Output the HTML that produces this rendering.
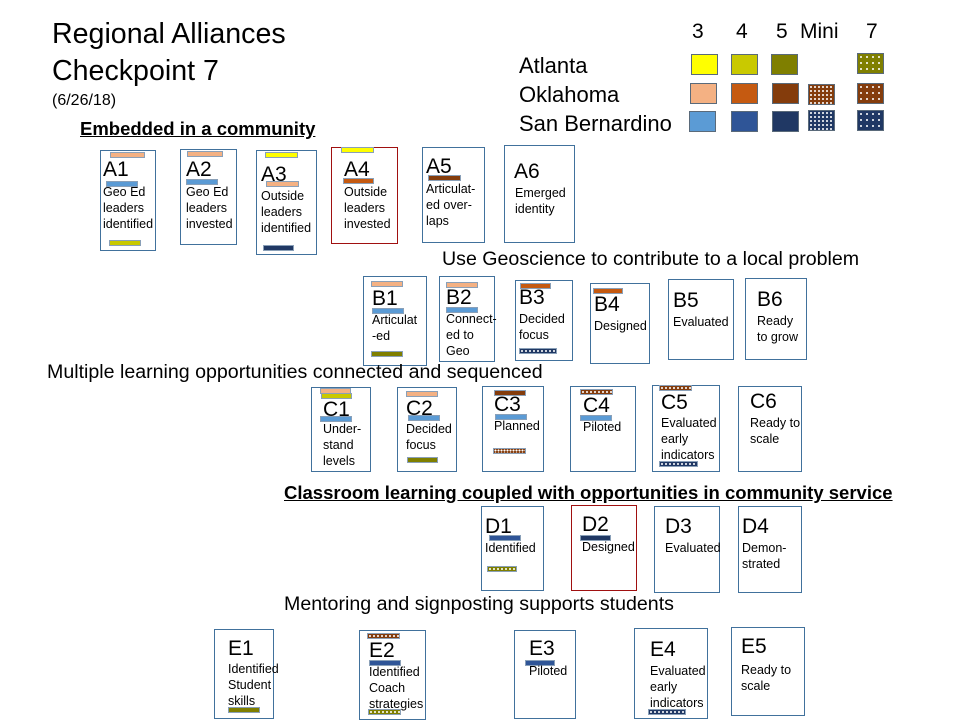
<!DOCTYPE html>
<html><head><meta charset="utf-8"><style>
body{margin:0;width:960px;height:720px;background:#fff;position:relative;overflow:hidden;font-family:"Liberation Sans","DejaVu Sans",sans-serif;color:#000}
div{position:absolute;box-sizing:border-box}
.b{border:1px solid #41719c;background:#fff}
.red{border-color:#a01010}
.id{font-size:21px;line-height:21px}
.t{font-size:12.5px;line-height:16px;white-space:nowrap}
.r{height:6px;width:33px;border:1px solid #8aa0b8}
.s{width:27px;height:21px;border:1px solid #5a6a7a}
.d{background-image:radial-gradient(circle,#fff 0.8px,transparent 1.1px);background-size:4px 4px}
.h{font-size:19.6px;white-space:nowrap}
.hb{font-weight:bold;text-decoration:underline;font-size:18.5px}
.pe{background-color:#f4b183}.ye{background-color:#ffff00}.yo{background-color:#c9c900}.ol{background-color:#7f7f00}
.or{background-color:#c55a11}.br{background-color:#843c0c}.lb{background-color:#5b9bd5}.bl{background-color:#2f5597}.nv{background-color:#203864}
</style></head><body>
<div style="left:52px;top:16px;font-size:28.6px;line-height:37px">Regional Alliances<br>Checkpoint 7</div>
<div style="left:52px;top:92px;font-size:16px">(6/26/18)</div>
<div class="h hb" style="left:80px;top:118px">Embedded in a community</div>

<div style="left:519px;top:51px;font-size:22px;line-height:29px">Atlanta<br>Oklahoma<br>San Bernardino</div>
<div style="left:692px;top:20px;font-size:21px">3</div>
<div style="left:736px;top:20px;font-size:21px">4</div>
<div style="left:776px;top:20px;font-size:21px">5</div>
<div style="left:800px;top:20px;font-size:21px">Mini</div>
<div style="left:866px;top:20px;font-size:21px">7</div>
<div class="s ye" style="left:691px;top:54px"></div><div class="s yo" style="left:731px;top:54px"></div><div class="s ol" style="left:771px;top:54px"></div><div class="s ol d" style="left:857px;top:53px;background-size:6px 6px"></div>
<div class="s pe" style="left:690px;top:83px"></div><div class="s or" style="left:731px;top:83px"></div><div class="s br" style="left:772px;top:83px"></div><div class="s br d" style="left:808px;top:84px"></div><div class="s br d" style="left:857px;top:83px;background-size:6px 6px"></div>
<div class="s lb" style="left:689px;top:111px"></div><div class="s bl" style="left:731px;top:111px"></div><div class="s nv" style="left:772px;top:111px"></div><div class="s nv d" style="left:808px;top:110px"></div><div class="s nv d" style="left:857px;top:110px;background-size:6px 6px"></div>

<!-- A row -->
<div class="b" style="left:100px;top:150px;width:56px;height:101px"></div>
<div class="r pe" style="left:110px;top:152px;width:35px"></div>
<div class="id" style="left:103px;top:159px">A1</div>
<div class="r lb" style="left:106px;top:181px;width:32px"></div>
<div class="t" style="left:103px;top:184px">Geo Ed<br>leaders<br>identified</div>
<div class="r yo" style="left:109px;top:240px;width:32px"></div>

<div class="b" style="left:180px;top:149px;width:57px;height:96px"></div>
<div class="r pe" style="left:187px;top:151px;width:36px"></div>
<div class="id" style="left:186px;top:159px">A2</div>
<div class="r lb" style="left:186px;top:179px;width:32px"></div>
<div class="t" style="left:186px;top:184px">Geo Ed<br>leaders<br>invested</div>

<div class="b" style="left:256px;top:150px;width:61px;height:105px"></div>
<div class="r ye" style="left:265px;top:152px;width:33px"></div>
<div class="id" style="left:261px;top:164px">A3</div>
<div class="r pe" style="left:266px;top:181px;width:33px"></div>
<div class="t" style="left:261px;top:188px">Outside<br>leaders<br>identified</div>
<div class="r nv" style="left:263px;top:245px;width:31px"></div>

<div class="b red" style="left:331px;top:147px;width:67px;height:97px"></div>
<div class="r ye" style="left:341px;top:147px;width:33px"></div>
<div class="id" style="left:344px;top:159px">A4</div>
<div class="r or" style="left:343px;top:178px;width:31px"></div>
<div class="t" style="left:344px;top:184px">Outside<br>leaders<br>invested</div>

<div class="b" style="left:422px;top:147px;width:63px;height:96px"></div>
<div class="id" style="left:426px;top:156px">A5</div>
<div class="r br" style="left:428px;top:175px;width:33px"></div>
<div class="t" style="left:426px;top:181px">Articulat-<br>ed over-<br>laps</div>

<div class="b" style="left:504px;top:145px;width:71px;height:98px"></div>
<div class="id" style="left:514px;top:161px">A6</div>
<div class="t" style="left:515px;top:185px">Emerged<br>identity</div>

<div class="h" style="left:442px;top:248px">Use Geoscience  to contribute to a local problem</div>

<!-- B row -->
<div class="b" style="left:363px;top:276px;width:64px;height:90px"></div>
<div class="r pe" style="left:371px;top:281px;width:32px"></div>
<div class="id" style="left:372px;top:288px">B1</div>
<div class="r lb" style="left:372px;top:308px;width:32px"></div>
<div class="t" style="left:372px;top:312px">Articulat<br>-ed</div>
<div class="r ol" style="left:371px;top:351px;width:32px"></div>

<div class="b" style="left:439px;top:276px;width:56px;height:86px"></div>
<div class="r pe" style="left:446px;top:282px;width:32px"></div>
<div class="id" style="left:446px;top:287px">B2</div>
<div class="r lb" style="left:446px;top:307px;width:32px"></div>
<div class="t" style="left:446px;top:311px">Connect-<br>ed to<br>Geo</div>

<div class="b" style="left:515px;top:280px;width:58px;height:81px"></div>
<div class="r or" style="left:520px;top:283px;width:31px"></div>
<div class="id" style="left:519px;top:287px">B3</div>
<div class="t" style="left:519px;top:311px">Decided<br>focus</div>
<div class="r nv d" style="left:519px;top:348px;width:38px"></div>

<div class="b" style="left:590px;top:283px;width:60px;height:81px"></div>
<div class="r or" style="left:593px;top:288px;width:30px"></div>
<div class="id" style="left:594px;top:294px">B4</div>
<div class="t" style="left:594px;top:318px">Designed</div>

<div class="b" style="left:668px;top:279px;width:66px;height:81px"></div>
<div class="id" style="left:673px;top:290px">B5</div>
<div class="t" style="left:673px;top:314px">Evaluated</div>

<div class="b" style="left:745px;top:278px;width:62px;height:82px"></div>
<div class="id" style="left:757px;top:289px">B6</div>
<div class="t" style="left:757px;top:313px">Ready<br>to grow</div>

<div class="h" style="left:47px;top:361px">Multiple learning opportunities connected and sequenced</div>

<!-- C row -->
<div class="b" style="left:311px;top:387px;width:60px;height:85px"></div>
<div class="r pe" style="left:320px;top:388px;width:31px"></div>
<div class="r yo" style="left:321px;top:393px;width:31px"></div>
<div class="id" style="left:323px;top:399px">C1</div>
<div class="r lb" style="left:320px;top:416px;width:32px"></div>
<div class="t" style="left:323px;top:421px">Under-<br>stand<br>levels</div>

<div class="b" style="left:397px;top:387px;width:60px;height:85px"></div>
<div class="r pe" style="left:406px;top:391px;width:32px"></div>
<div class="id" style="left:406px;top:398px">C2</div>
<div class="r lb" style="left:408px;top:415px;width:32px"></div>
<div class="t" style="left:406px;top:421px">Decided<br>focus</div>
<div class="r ol" style="left:407px;top:457px;width:31px"></div>

<div class="b" style="left:482px;top:386px;width:62px;height:86px"></div>
<div class="r br" style="left:494px;top:390px;width:32px"></div>
<div class="id" style="left:494px;top:394px">C3</div>
<div class="r lb" style="left:495px;top:414px;width:32px"></div>
<div class="t" style="left:494px;top:418px">Planned</div>
<div class="r br d" style="left:493px;top:448px;width:33px;background-size:3px 3px"></div>

<div class="b" style="left:570px;top:386px;width:66px;height:86px"></div>
<div class="r br d" style="left:580px;top:389px;width:33px"></div>
<div class="id" style="left:583px;top:395px">C4</div>
<div class="r lb" style="left:580px;top:415px;width:32px"></div>
<div class="t" style="left:583px;top:419px">Piloted</div>

<div class="b" style="left:652px;top:385px;width:68px;height:87px"></div>
<div class="r br d" style="left:659px;top:385px;width:33px"></div>
<div class="id" style="left:661px;top:392px">C5</div>
<div class="t" style="left:661px;top:415px">Evaluated<br>early<br>indicators</div>
<div class="r nv d" style="left:659px;top:461px;width:39px"></div>

<div class="b" style="left:738px;top:386px;width:64px;height:86px"></div>
<div class="id" style="left:750px;top:391px">C6</div>
<div class="t" style="left:750px;top:415px">Ready to<br>scale</div>

<div class="h hb" style="left:284px;top:482px">Classroom  learning coupled with opportunities  in community service</div>

<!-- D row -->
<div class="b" style="left:481px;top:506px;width:63px;height:85px"></div>
<div class="id" style="left:485px;top:516px">D1</div>
<div class="r bl" style="left:489px;top:535px;width:32px"></div>
<div class="t" style="left:485px;top:540px">Identified</div>
<div class="r ol d" style="left:487px;top:566px;width:30px"></div>

<div class="b red" style="left:571px;top:505px;width:66px;height:86px"></div>
<div class="id" style="left:582px;top:514px">D2</div>
<div class="r nv" style="left:580px;top:535px;width:31px"></div>
<div class="t" style="left:582px;top:539px">Designed</div>

<div class="b" style="left:654px;top:506px;width:66px;height:87px"></div>
<div class="id" style="left:665px;top:516px">D3</div>
<div class="t" style="left:665px;top:540px">Evaluated</div>

<div class="b" style="left:738px;top:506px;width:64px;height:87px"></div>
<div class="id" style="left:742px;top:516px">D4</div>
<div class="t" style="left:742px;top:540px">Demon-<br>strated</div>

<div class="h" style="left:284px;top:593px">Mentoring and signposting supports students</div>

<!-- E row -->
<div class="b" style="left:214px;top:629px;width:60px;height:90px"></div>
<div class="id" style="left:228px;top:638px">E1</div>
<div class="t" style="left:228px;top:661px">Identified<br>Student<br>skills</div>
<div class="r ol" style="left:228px;top:707px;width:32px"></div>

<div class="b" style="left:359px;top:630px;width:67px;height:90px"></div>
<div class="r br d" style="left:367px;top:633px;width:33px"></div>
<div class="id" style="left:369px;top:640px">E2</div>
<div class="r bl" style="left:369px;top:660px;width:32px"></div>
<div class="t" style="left:369px;top:664px">Identified<br>Coach<br>strategies</div>
<div class="r ol d" style="left:368px;top:709px;width:33px"></div>

<div class="b" style="left:514px;top:630px;width:62px;height:89px"></div>
<div class="id" style="left:529px;top:638px">E3</div>
<div class="r bl" style="left:525px;top:660px;width:30px"></div>
<div class="t" style="left:529px;top:663px">Piloted</div>

<div class="b" style="left:634px;top:628px;width:74px;height:91px"></div>
<div class="id" style="left:650px;top:639px">E4</div>
<div class="t" style="left:650px;top:663px">Evaluated<br>early<br>indicators</div>
<div class="r nv d" style="left:648px;top:709px;width:38px"></div>

<div class="b" style="left:731px;top:627px;width:74px;height:89px"></div>
<div class="id" style="left:741px;top:636px">E5</div>
<div class="t" style="left:741px;top:662px">Ready to<br>scale</div>
</body></html>
